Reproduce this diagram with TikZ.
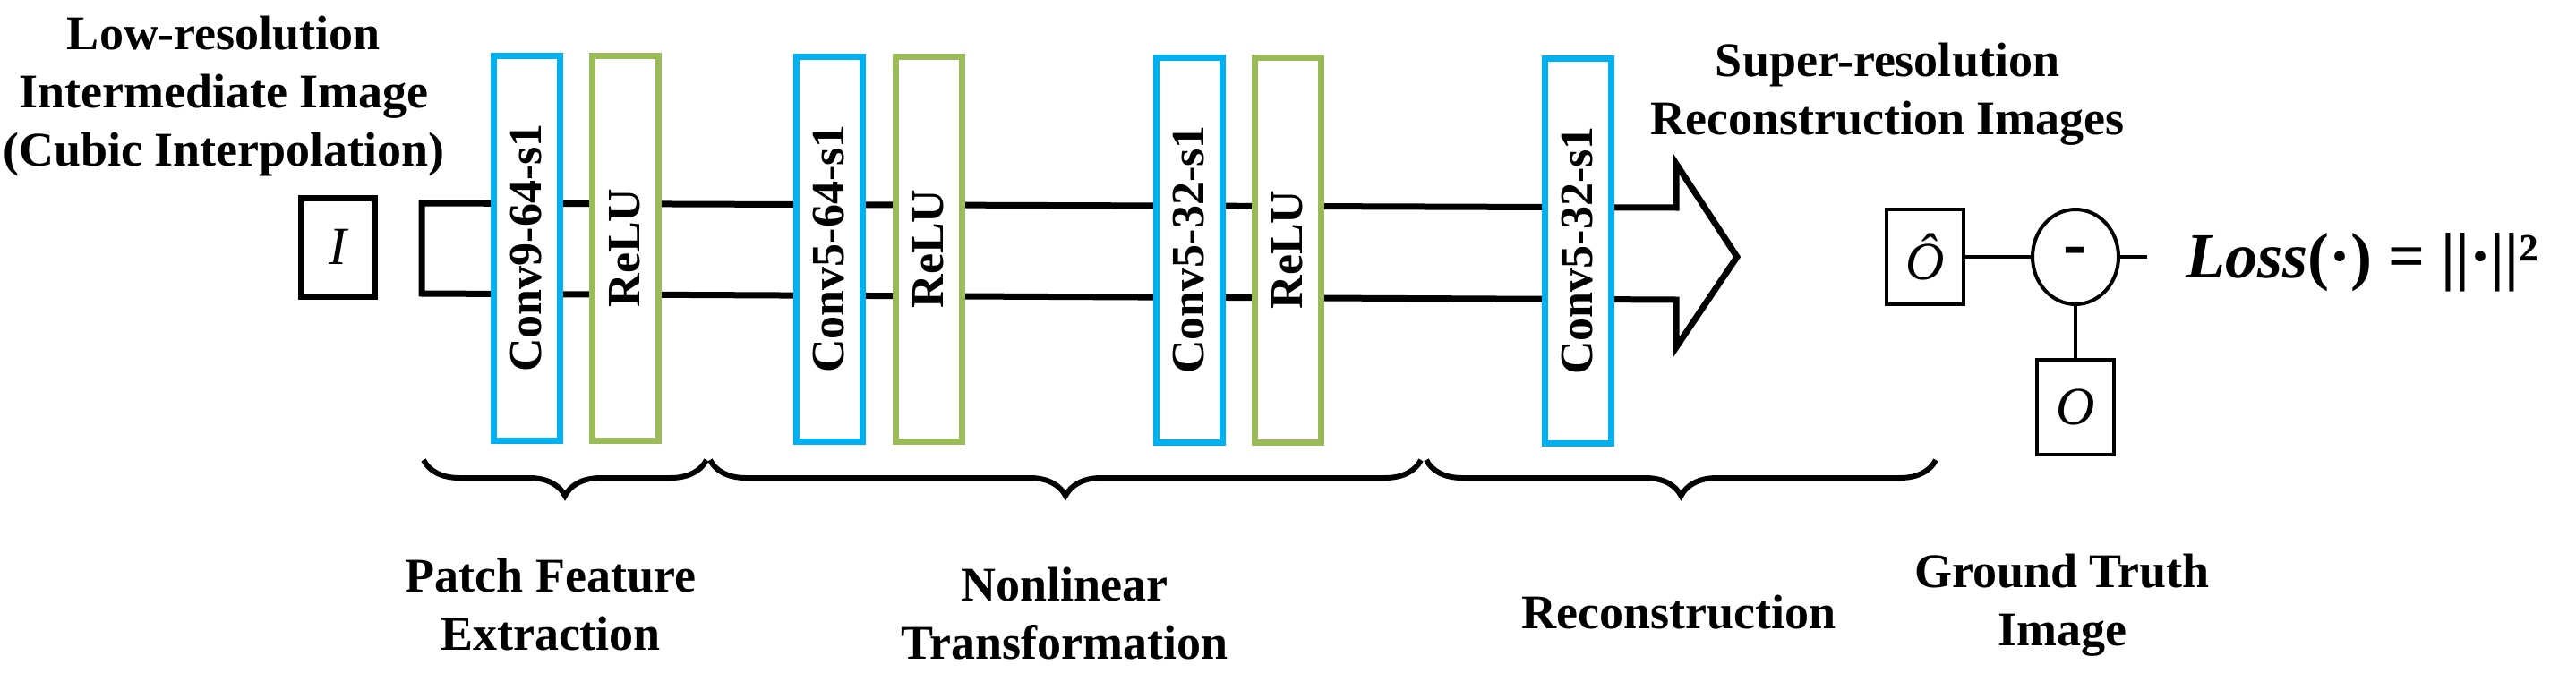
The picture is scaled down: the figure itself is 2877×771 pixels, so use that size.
\documentclass[tikz,border=0pt]{standalone}
\usepackage{fontspec}
\setmainfont{Liberation Serif}
\usetikzlibrary{decorations.pathreplacing,shapes.geometric}
\definecolor{cblue}{HTML}{00B0F0}
\definecolor{cgreen}{HTML}{9BBB59}
\begin{document}
\begin{tikzpicture}[x=0.5pt,y=-0.5pt,
  lbl/.style={font=\fontsize{27}{32.5}\selectfont\bfseries,align=center,inner sep=0},
  layer/.style={draw=#1,line width=3.5pt,fill=white,minimum width=37pt,minimum height=215pt,inner sep=0},
  vtxt/.style={font=\fontsize{26}{30}\selectfont\bfseries,rotate=90},
  ibox/.style={draw,fill=white,inner sep=0,font=\fontsize{30}{34}\selectfont\itshape},
  brc/.style={decorate,decoration={brace,mirror,amplitude=20pt},line width=3pt}]
\useasboundingbox (0,0) rectangle (2877,771);
% titles
\node[lbl] (t1) at (250,108) {Low-resolution\\Intermediate Image\\(Cubic Interpolation)};
\node[lbl] (t2) at (2108,105) {Super-resolution\\Reconstruction Images};
% input box
\node[ibox,line width=3.5pt,minimum width=41pt,minimum height=55pt] (I) at (377,276) {I};
% big arrow
\draw[line width=3.5pt,line join=miter] (1872,232) -- (471,227) -- (471,328) -- (1872,335)
  -- (1872,388) -- (1940,287) -- (1872,183) -- cycle;
\coordinate (tip) at (1940,287);
% layers
\node[layer=cblue] (c1) at (588,277) {}; \node[vtxt] at (c1) {Conv9-64-s1};
\node[layer=cgreen] (r1) at (698,277) {}; \node[vtxt] at (r1) {ReLU};
\node[layer=cblue] (c2) at (926,278) {}; \node[vtxt] at (c2) {Conv5-64-s1};
\node[layer=cgreen] (r2) at (1037,278) {}; \node[vtxt] at (r2) {ReLU};
\node[layer=cblue] (c3) at (1328,279) {}; \node[vtxt] at (c3) {Conv5-32-s1};
\node[layer=cgreen] (r3) at (1438,279) {}; \node[vtxt] at (r3) {ReLU};
\node[layer=cblue] (c4) at (1762,280) {}; \node[vtxt] at (c4) {Conv5-32-s1};
% output side
\node[ibox,line width=2pt,minimum width=43pt,minimum height=53pt] (Oh) at (2150,287) {Ô};
\node[draw,ellipse,line width=2pt,minimum width=48pt,minimum height=53pt,inner sep=0,font=\fontsize{40}{44}\selectfont\bfseries] (m) at (2318,287) {-};
\node[ibox,line width=2pt,minimum width=43pt,minimum height=53pt] (O) at (2318,455) {O};
\coordinate (lend) at (2398,287);
\draw[line width=2pt] (Oh) -- (m);
\draw[line width=2pt] (m) -- (O);
\draw[line width=2pt] (m) -- (lend);
\node[anchor=base west,inner sep=0,font=\fontsize{36}{40}\selectfont\bfseries] (loss) at (2441,310) {\textit{Loss}(·) = ||·||²};
% braces
\coordinate (b0) at (473,514); \coordinate (b1) at (789,514);
\coordinate (b2) at (793,514); \coordinate (b3) at (1587,514);
\coordinate (b4) at (1593,514); \coordinate (b5) at (2162,514);
\draw[brc] (b0) -- (b1);
\draw[brc] (b2) -- (b3);
\draw[brc] (b4) -- (b5);
\node[lbl] (l1) at (615,676) {Patch Feature\\Extraction};
\node[lbl] (l2) at (1189,686) {Nonlinear\\Transformation};
\node[lbl] (l3) at (1875,684) {Reconstruction};
\node[lbl] (l4) at (2303,676) {Ground Truth\\Image};
\end{tikzpicture}
\end{document}
